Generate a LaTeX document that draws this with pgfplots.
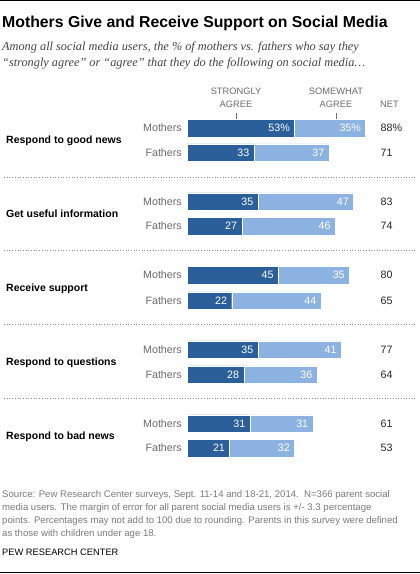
\documentclass[border=0pt]{standalone}
\usepackage{pgfplots}
\pgfplotsset{compat=1.18}
\usepackage{fontspec}
\setmainfont{Liberation Sans}
\newfontfamily\subfont{Liberation Serif}
\definecolor{strong}{HTML}{2B5F9A}
\definecolor{some}{HTML}{8CB2E1}
\definecolor{lab}{HTML}{6A6A6A}
\definecolor{sub}{HTML}{444444}
\definecolor{src}{HTML}{7A7A7A}
\newcommand\lbl{\fontsize{10.7}{12}\selectfont}
\newcommand\hdr{\fontsize{9.3}{11}\selectfont}
\newcommand\cat{\fontsize{10.5}{12}\selectfont\bfseries}
\newcommand\srcf{\fontsize{9.6}{12}\selectfont}
\pgfplotsset{frame/.style={
  at={(0,0)}, anchor=south west, scale only axis,
  width=420pt, height=574pt,
  xmin=-92.12, xmax=114.78, ymin=0, ymax=574, y dir=reverse,
  hide axis, clip=false}}
\begin{document}
\begin{tikzpicture}
\begin{axis}[frame, xbar stacked, bar width=17.5]
% strongly agree
\addplot[fill=strong, draw=white, line width=0.3pt] coordinates {
  (53,128) (33,152.5) (35,201.5) (27,226) (45,275)
  (22,300.5) (35,349.5) (28,374.5) (31,423.5) (21,448)
};
% somewhat agree
\addplot[fill=some, draw=white, line width=0.3pt] coordinates {
  (35,128) (37,152.5) (47,201.5) (46,226) (35,275)
  (44,300.5) (41,349.5) (36,374.5) (31,423.5) (32,448)
};
\end{axis}
% value labels, placed at the end of each segment
\begin{axis}[frame]
\addplot[only marks, mark=none, point meta=explicit symbolic,
  nodes near coords,
  every node near coord/.style={anchor=east, inner sep=0pt,
    xshift=-4.5pt, text=white, font=\lbl}] coordinates {
  (53,128) [53\%]  (88,128) [35\%]
  (33,152.5) [33]  (70,152.5) [37]
  (35,201.5) [35]  (82,201.5) [47]
  (27,226) [27]    (73,226) [46]
  (45,275) [45]    (80,275) [35]
  (22,300.5) [22]  (66,300.5) [44]
  (35,349.5) [35]  (76,349.5) [41]
  (28,374.5) [28]  (64,374.5) [36]
  (31,423.5) [31]  (62,423.5) [31]
  (21,448) [21]    (53,448) [32]
};
\end{axis}

\begin{scope}[shift={(0,574pt)}, x=1pt, y=-1pt, every node/.style={inner sep=0pt}]
\draw[line width=1.3pt] (0,0.7) -- (420,0.7);
\draw[line width=1.3pt] (0,572.5) -- (420,572.5);

\node[anchor=base west, font=\fontsize{15.8}{18}\selectfont\bfseries] at (2,27.7)
  {Mothers Give and Receive Support on Social Media};
\node[anchor=base west, text=sub, font=\subfont\itshape\fontsize{12.3}{14}\selectfont] at (2,50.7)
  {Among all social media users, the \% of mothers vs. fathers who say they};
\node[anchor=base west, text=sub, font=\subfont\itshape\fontsize{12.3}{14}\selectfont] at (2,66.5)
  {“strongly agree” or “agree” that they do the following on social media…};

% column headers
\node[anchor=base, text=lab, font=\hdr] at (236,95) {STRONGLY};
\node[anchor=base, text=lab, font=\hdr] at (236,108) {AGREE};
\node[anchor=base, text=lab, font=\hdr] at (336,95) {SOMEWHAT};
\node[anchor=base, text=lab, font=\hdr] at (336,108) {AGREE};
\node[anchor=base west, text=lab, font=\hdr] at (380,108) {NET};
\draw[lab, line width=0.6pt] (236,113) -- (236,119);
\draw[lab, line width=0.6pt] (336,113) -- (336,119);

% row labels and net values
\foreach \y/\n in {128/88\%, 201.5/83, 275/80, 349.5/77, 423.5/61} {
  \node[anchor=base east, text=lab, font=\lbl] at (182,\y+3.7) {Mothers};
  \node[anchor=base west, text=black!85, font=\lbl] at (380.5,\y+3.7) {\n};
}
\foreach \y/\n in {152.5/71, 226/74, 300.5/65, 374.5/64, 448/53} {
  \node[anchor=base east, text=lab, font=\lbl] at (182,\y+3.7) {Fathers};
  \node[anchor=base west, text=black!85, font=\lbl] at (380.5,\y+3.7) {\n};
}

% categories
\node[anchor=base west, font=\cat] at (6,144) {Respond to good news};
\node[anchor=base west, font=\cat] at (6,217.5) {Get useful information};
\node[anchor=base west, font=\cat] at (6,291.5) {Receive support};
\node[anchor=base west, font=\cat] at (6,365.7) {Respond to questions};
\node[anchor=base west, font=\cat] at (6,439.5) {Respond to bad news};

% separators
\foreach \y in {177, 250.5, 324, 398}
  \draw[black!45, line width=0.7pt, dash pattern=on 0.7pt off 2pt] (4,\y) -- (416,\y);

% source
\node[anchor=base west, text=src, font=\srcf] at (2,497.3)
  {Source: Pew Research Center surveys, Sept. 11-14 and 18-21, 2014.\ \ N=366 parent social};
\node[anchor=base west, text=src, font=\srcf] at (2,510.4)
  {media users. The margin of error for all parent social media users is +/- 3.3 percentage};
\node[anchor=base west, text=src, font=\srcf] at (2,523.5)
  {points. Percentages may not add to 100 due to rounding. Parents in this survey were defined};
\node[anchor=base west, text=src, font=\srcf] at (2,536.6)
  {as those with children under age 18.};
\node[anchor=base west, font=\fontsize{9.3}{11}\selectfont] at (2,555)
  {PEW RESEARCH CENTER};
\end{scope}
\pgfresetboundingbox
\path (0,0) rectangle (420pt,574pt);
\end{tikzpicture}
\end{document}
